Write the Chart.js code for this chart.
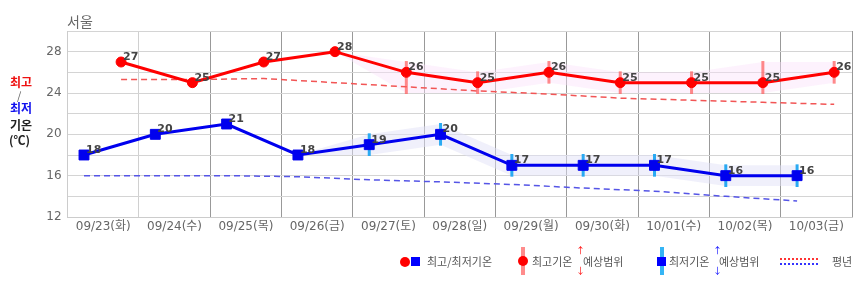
<!DOCTYPE html>
<html>
<head>
<meta charset="utf-8">
<script src="https://cdn.jsdelivr.net/npm/chart.js@4.4.1/dist/chart.umd.min.js"></script>
<style>
  body { margin: 0; background: #fff; }
  #wrap { position: relative; width: 860px; height: 282px; font-family: "Noto Sans CJK KR", sans-serif; }
  #chart { position: absolute; left: 0; top: 0; }
  .t { position: absolute; white-space: nowrap; line-height: 1; }
  .lg { font-size: 11px; color: #555; top: 256px; }
  .ax { font-size: 12px; font-weight: bold; left: 10px; }
  .ar { font-size: 9px; }
</style>
</head>
<body>
<div id="wrap">
  <canvas id="chart" width="860" height="282"></canvas>

  <!-- title and left axis caption -->
  <div class="t" style="left:67px;top:14px;font-size:14px;color:#666;">서울</div>
  <div class="t ax" style="top:76px;color:#ee1111;">최고</div>
  <div class="t" style="left:17px;top:90px;font-size:11px;color:#666;">/</div>
  <div class="t ax" style="top:102px;color:#1111ee;">최저</div>
  <div class="t ax" style="top:119px;color:#222;">기온</div>
  <div class="t ax" style="top:134px;left:9px;color:#222;">(℃)</div>

  <!-- legend -->
  <div class="t" style="left:400px;top:257px;width:10px;height:10px;border-radius:50%;background:#f00;"></div>
  <div class="t" style="left:411px;top:257px;width:9px;height:9px;background:#00f;"></div>
  <div class="t lg" style="left:427px;">최고/최저기온</div>

  <div class="t" style="left:521px;top:247px;width:4px;height:28px;background:#ff8c8c;"></div>
  <div class="t" style="left:518px;top:256px;width:10px;height:10px;border-radius:50%;background:#f00;"></div>
  <div class="t lg" style="left:532px;">최고기온</div>
  <div class="t ar" style="left:576px;top:246px;color:#f00;">↑</div>
  <div class="t ar" style="left:576px;top:266px;color:#f00;">↓</div>
  <div class="t lg" style="left:583px;">예상범위</div>

  <div class="t" style="left:660px;top:247px;width:4px;height:28px;background:#35b5f5;"></div>
  <div class="t" style="left:657px;top:257px;width:9px;height:9px;background:#00f;"></div>
  <div class="t lg" style="left:669px;">최저기온</div>
  <div class="t ar" style="left:713px;top:246px;color:#00f;">↑</div>
  <div class="t ar" style="left:713px;top:266px;color:#00f;">↓</div>
  <div class="t lg" style="left:719px;">예상범위</div>

  <div class="t" style="left:780px;top:258px;width:38px;border-top:2px dotted #f33;"></div>
  <div class="t" style="left:780px;top:263px;width:38px;border-top:2px dotted #33f;"></div>
  <div class="t lg" style="left:832px;">평년</div>
</div>

<script>
// ----- Data -----
var days = ['09/23(화)', '09/24(수)', '09/25(목)', '09/26(금)', '09/27(토)', '09/28(일)',
            '09/29(월)', '09/30(화)', '10/01(수)', '10/02(목)', '10/03(금)'];

// forecast max / min temperatures
var maxTemp = [27, 25, 27, 28, 26, 25, 26, 25, 25, 25, 26];
var minTemp = [18, 20, 21, 18, 19, 20, 17, 17, 17, 16, 16];

// expected ranges (null = no range shown)
var maxLow  = [null, null, null, 28, 24, 24, 25, 24, 24, 24, 25];
var maxHigh = [null, null, null, 28, 27, 26, 27, 26, 26, 27, 27];
var minLow  = [null, null, null, 18, 18, 19, 16, 16, 16, 15, 15];
var minHigh = [null, null, null, 18, 20, 21, 18, 18, 18, 17, 17];

// normals
var maxNormal = [25.3, 25.3, 25.4, 25.0, 24.6, 24.2, 23.9, 23.5, 23.3, 23.1, 22.9];
var minNormal = [16.0, 16.0, 16.0, 15.9, 15.6, 15.4, 15.15, 14.8, 14.5, 14.0, 13.55];

// y axis ticks
var yMin = 12, yMax = 30, yStep = 2, yLabelEvery = 4;

// max temps sit a bit right of the day centre, min temps a bit left
var maxShift = 0.25;
var minShift = -0.27;

function toPoints(values, shift) {
  var pts = [];
  for (var i = 0; i < values.length; i++) {
    if (values[i] !== null) pts.push({ x: i + shift, y: values[i] });
  }
  return pts;
}

// draw the vertical range bars for one series
function drawRangeBars(chart, lows, highs, shift, color) {
  var ctx = chart.ctx;
  var xs = chart.scales.xl;
  var ys = chart.scales.y;
  ctx.save();
  ctx.strokeStyle = color;
  ctx.lineWidth = 3;
  for (var i = 0; i < lows.length; i++) {
    if (lows[i] === null || lows[i] === highs[i]) continue;
    var x = xs.getPixelForValue(i + shift);
    ctx.beginPath();
    ctx.moveTo(x, ys.getPixelForValue(lows[i]) + 1);
    ctx.lineTo(x, ys.getPixelForValue(highs[i]) - 1);
    ctx.stroke();
  }
  ctx.restore();
}

var extrasPlugin = {
  id: 'extras',
  beforeDatasetDraw: function(chart, args) {
    var label = chart.data.datasets[args.index].label;
    if (label === 'max') drawRangeBars(chart, maxLow, maxHigh, maxShift, 'rgba(255, 90, 90, 0.7)');
    if (label === 'min') drawRangeBars(chart, minLow, minHigh, minShift, '#2aaaf2');
  },
  afterDatasetsDraw: function(chart) {
    var ctx = chart.ctx;
    ctx.save();
    ctx.font = 'bold 11px "DejaVu Sans"';
    ctx.fillStyle = '#444';
    ctx.textBaseline = 'alphabetic';
    ctx.textAlign = 'left';
    [[0, maxTemp], [1, minTemp]].forEach(function(pair) {
      var meta = chart.getDatasetMeta(pair[0]);
      meta.data.forEach(function(pt, i) {
        ctx.fillText(String(pair[1][i]), pt.x + 2, pt.y - 2);
      });
    });
    ctx.restore();
  }
};

var ctx = document.getElementById('chart').getContext('2d');
var chart = new Chart(ctx, {
  type: 'line',
  data: {
    labels: days,
    datasets: [
      {
        label: 'max',
        data: toPoints(maxTemp, maxShift),
        xAxisID: 'xl',
        borderColor: '#f00',
        borderWidth: 3,
        pointStyle: 'circle',
        pointRadius: 5,
        pointBackgroundColor: '#f00',
        pointBorderColor: '#f00',
        pointBorderWidth: 1,
        fill: false
      },
      {
        label: 'min',
        data: toPoints(minTemp, minShift),
        xAxisID: 'xl',
        borderColor: '#0000ee',
        borderWidth: 3,
        pointStyle: 'rect',
        pointRadius: 7,
        pointBackgroundColor: '#0000ee',
        pointBorderColor: '#0000ee',
        pointBorderWidth: 1,
        fill: false
      },
      {
        label: 'maxNormal',
        data: toPoints(maxNormal, maxShift),
        xAxisID: 'xl',
        borderColor: '#f25555',
        borderWidth: 1.5,
        borderDash: [6, 4],
        pointRadius: 0,
        fill: false
      },
      {
        label: 'minNormal',
        data: toPoints(minNormal, minShift),
        xAxisID: 'xl',
        borderColor: '#5555e6',
        borderWidth: 1.5,
        borderDash: [6, 4],
        pointRadius: 0,
        fill: false
      },
      {
        label: 'maxHigh',
        data: toPoints(maxHigh, maxShift),
        xAxisID: 'xl',
        borderWidth: 0,
        pointRadius: 0,
        backgroundColor: 'rgba(250, 225, 250, 0.42)',
        fill: '+1'
      },
      {
        label: 'maxLow',
        data: toPoints(maxLow, maxShift),
        xAxisID: 'xl',
        borderWidth: 0,
        pointRadius: 0,
        fill: false
      },
      {
        label: 'minHigh',
        data: toPoints(minHigh, minShift),
        xAxisID: 'xl',
        borderWidth: 0,
        pointRadius: 0,
        backgroundColor: 'rgba(225, 225, 248, 0.5)',
        fill: '+1'
      },
      {
        label: 'minLow',
        data: toPoints(minLow, minShift),
        xAxisID: 'xl',
        borderWidth: 0,
        pointRadius: 0,
        fill: false
      }
    ]
  },
  options: {
    responsive: false,
    animation: false,
    layout: { padding: { left: 0, right: 7, top: 31, bottom: 45 } },
    scales: {
      x: {
        type: 'category',
        offset: true,
        grid: {
          offset: true,
          drawTicks: false,
          color: function(c) {
            return (c.index <= 1 || c.index >= days.length) ? '#d0d0d0' : '#999';
          }
        },
        border: { color: '#ccc' },
        ticks: {
          padding: 3,
          color: '#666',
          maxRotation: 0,
          autoSkip: false,
          font: { family: '"DejaVu Sans", "Noto Sans CJK KR"', size: 12 }
        },
        afterFit: function(s) { s.height = 20; }
      },
      xl: {
        type: 'linear',
        display: false,
        min: -0.5,
        max: days.length - 0.5
      },
      y: {
        min: yMin,
        max: yMax,
        grid: { color: '#d4d4d4', drawTicks: false },
        border: { color: '#ccc' },
        ticks: {
          stepSize: yStep,
          padding: 6,
          color: '#666',
          font: { family: '"DejaVu Sans"', size: 12 },
          callback: function(v) { return v % yLabelEvery === 0 ? v : ''; }
        },
        afterFit: function(s) { s.width = 67.6; }
      }
    },
    plugins: {
      legend: { display: false },
      tooltip: { enabled: false }
    }
  },
  plugins: [extrasPlugin]
});
</script>
</body>
</html>
